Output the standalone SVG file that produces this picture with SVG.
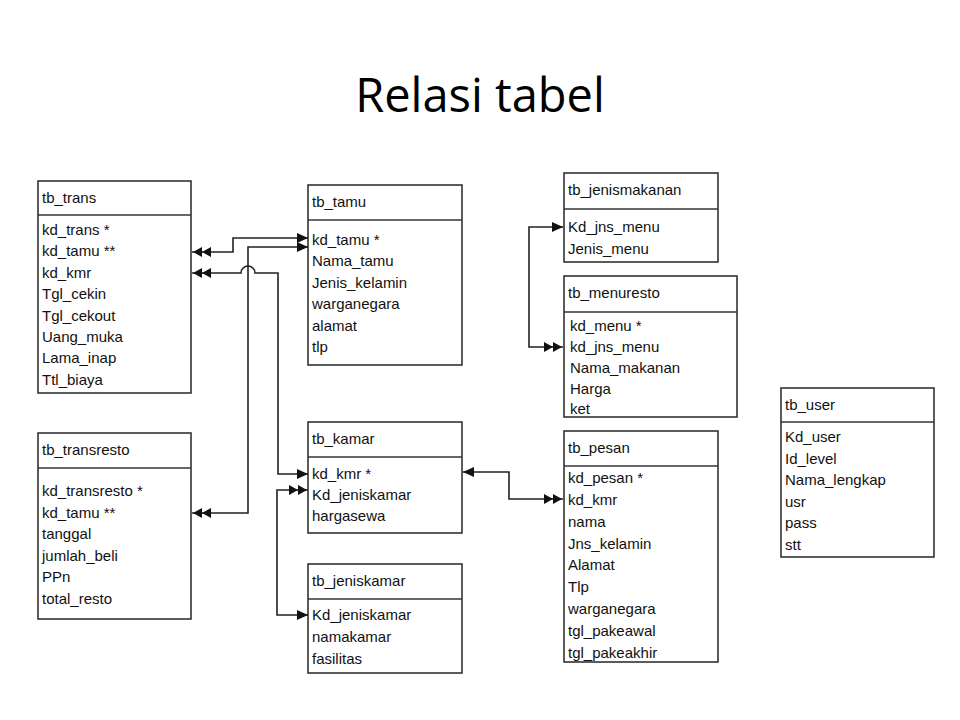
<svg xmlns="http://www.w3.org/2000/svg" width="960" height="720" viewBox="0 0 960 720">
<style>
.b{fill:#fff;stroke:#333;stroke-width:1.6}
.t{font-family:"Liberation Sans",Arial,sans-serif;font-size:15px;fill:#111}
.c{fill:none;stroke:#222;stroke-width:1.6}
</style>
<defs>
<marker id="a1" markerWidth="12" markerHeight="10" refX="11" refY="5" orient="auto-start-reverse" markerUnits="userSpaceOnUse"><path d="M0,0L11,5L0,10z" fill="#111"/></marker>
<marker id="a2" markerWidth="20" markerHeight="10" refX="19" refY="5" orient="auto-start-reverse" markerUnits="userSpaceOnUse"><path d="M0,0L9,5L0,10zM9,0L18,5L9,10z" fill="#111"/></marker>
</defs>
<rect width="960" height="720" fill="#fff"/>
<text x="480" y="112" text-anchor="middle" font-family="'Open Sans','Liberation Sans',sans-serif" font-size="47" fill="#000">Relasi tabel</text>
<g id="tb_trans"><rect class="b" x="38" y="181" width="153" height="212"/><line class="b" x1="38" y1="215" x2="191" y2="215"/><text class="t" x="42" y="203">tb_trans</text>
<text class="t" x="42" y="235">kd_trans *</text><text class="t" x="42" y="256.4">kd_tamu **</text><text class="t" x="42" y="277.8">kd_kmr</text><text class="t" x="42" y="299.2">Tgl_cekin</text><text class="t" x="42" y="320.6">Tgl_cekout</text><text class="t" x="42" y="342">Uang_muka</text><text class="t" x="42" y="363.4">Lama_inap</text><text class="t" x="42" y="384.8">Ttl_biaya</text></g>
<g id="tb_tamu"><rect class="b" x="308" y="185" width="154" height="180"/><line class="b" x1="308" y1="220" x2="462" y2="220"/><text class="t" x="312" y="207">tb_tamu</text>
<text class="t" x="312" y="245">kd_tamu *</text><text class="t" x="312" y="266.4">Nama_tamu</text><text class="t" x="312" y="287.8">Jenis_kelamin</text><text class="t" x="312" y="309.2">warganegara</text><text class="t" x="312" y="330.6">alamat</text><text class="t" x="312" y="352">tlp</text></g>
<g id="tb_jenismakanan"><rect class="b" x="564" y="173" width="154" height="89"/><line class="b" x1="564" y1="209" x2="718" y2="209"/><text class="t" x="568" y="195">tb_jenismakanan</text>
<text class="t" x="568" y="232">Kd_jns_menu</text><text class="t" x="568" y="254">Jenis_menu</text></g>
<g id="tb_menuresto"><rect class="b" x="564" y="276" width="173" height="141"/><line class="b" x1="564" y1="312" x2="737" y2="312"/><text class="t" x="568" y="298">tb_menuresto</text>
<text class="t" x="570" y="331">kd_menu *</text><text class="t" x="570" y="352">kd_jns_menu</text><text class="t" x="570" y="373">Nama_makanan</text><text class="t" x="570" y="394">Harga</text><text class="t" x="570" y="414">ket</text></g>
<g id="tb_user"><rect class="b" x="781" y="388" width="153" height="169"/><line class="b" x1="781" y1="422" x2="934" y2="422"/><text class="t" x="785" y="410">tb_user</text>
<text class="t" x="785" y="442">Kd_user</text><text class="t" x="785" y="463.6">Id_level</text><text class="t" x="785" y="485.2">Nama_lengkap</text><text class="t" x="785" y="506.8">usr</text><text class="t" x="785" y="528.4">pass</text><text class="t" x="785" y="550">stt</text></g>
<g id="tb_transresto"><rect class="b" x="38" y="433" width="153" height="186"/><line class="b" x1="38" y1="468" x2="191" y2="468"/><text class="t" x="42" y="455">tb_transresto</text>
<text class="t" x="42" y="496">kd_transresto *</text><text class="t" x="42" y="517.6">kd_tamu **</text><text class="t" x="42" y="539.2">tanggal</text><text class="t" x="42" y="560.8">jumlah_beli</text><text class="t" x="42" y="582.4">PPn</text><text class="t" x="42" y="604">total_resto</text></g>
<g id="tb_kamar"><rect class="b" x="308" y="422" width="154" height="111"/><line class="b" x1="308" y1="457" x2="462" y2="457"/><text class="t" x="312" y="444">tb_kamar</text>
<text class="t" x="312" y="479">kd_kmr *</text><text class="t" x="312" y="500">Kd_jeniskamar</text><text class="t" x="312" y="521">hargasewa</text></g>
<g id="tb_pesan"><rect class="b" x="564" y="431" width="154" height="231"/><line class="b" x1="564" y1="466" x2="718" y2="466"/><text class="t" x="568" y="453">tb_pesan</text>
<text class="t" x="568" y="483">kd_pesan *</text><text class="t" x="568" y="505">kd_kmr</text><text class="t" x="568" y="527">nama</text><text class="t" x="568" y="549">Jns_kelamin</text><text class="t" x="568" y="570">Alamat</text><text class="t" x="568" y="592">Tlp</text><text class="t" x="568" y="614">warganegara</text><text class="t" x="568" y="636">tgl_pakeawal</text><text class="t" x="568" y="658">tgl_pakeakhir</text></g>
<g id="tb_jeniskamar"><rect class="b" x="308" y="564" width="154" height="109"/><line class="b" x1="308" y1="599" x2="462" y2="599"/><text class="t" x="312" y="586">tb_jeniskamar</text>
<text class="t" x="312" y="620">Kd_jeniskamar</text><text class="t" x="312" y="642">namakamar</text><text class="t" x="312" y="664">fasilitas</text></g>
<g id="connectors">
<path class="c" d="M308,238H233V252H192" marker-start="url(#a1)" marker-end="url(#a2)"/>
<path class="c" d="M308,247H248V513H192" marker-start="url(#a1)" marker-end="url(#a2)"/>
<path class="c" d="M192,273H241A7,7 0 0 1 255,273H278V474H308" marker-start="url(#a2)" marker-end="url(#a1)"/>
<path class="c" d="M308,490H277V615H308" marker-start="url(#a2)" marker-end="url(#a1)"/>
<path class="c" d="M563,227H529V347H563" marker-start="url(#a1)" marker-end="url(#a2)"/>
<path class="c" d="M463,472H509V499H563" marker-start="url(#a1)" marker-end="url(#a2)"/>
</g>
</svg>
